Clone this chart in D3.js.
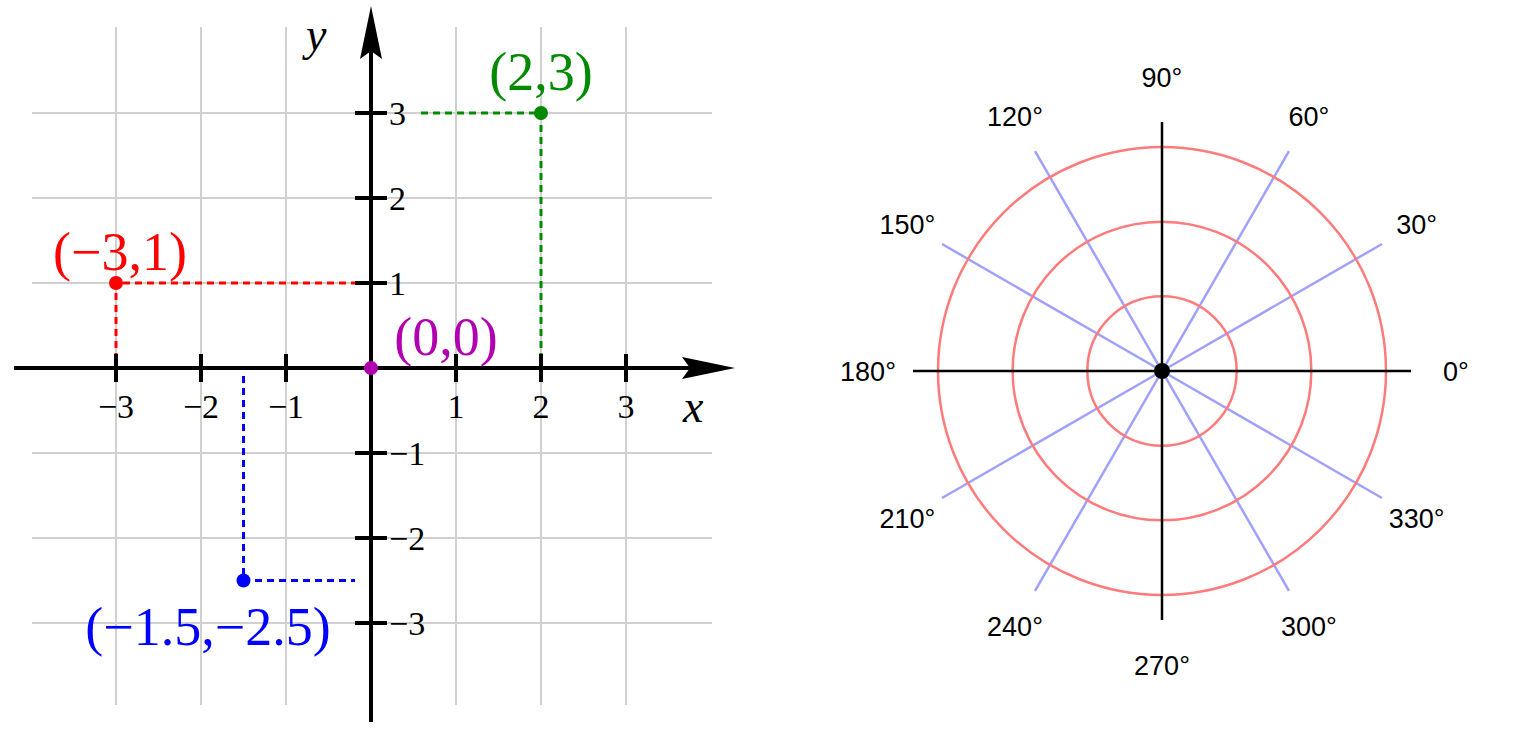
<!DOCTYPE html>
<html><head><meta charset="utf-8">
<script src="https://cdn.jsdelivr.net/npm/d3@7"></script>
<style>body{margin:0;background:#fff}</style></head>
<body><svg id="c" width="1536" height="742"></svg>
<script>
const ticks = [-3,-2,-1,1,2,3];
const tickLabels = ["\u22123","\u22122","\u22121","1","2","3"];
const points = [
  {label:"(2,3)", x:2, y:3, color:"#008a00"},
  {label:"(\u22123,1)", x:-3, y:1, color:"#ff0000"},
  {label:"(\u22121.5,\u22122.5)", x:-1.5, y:-2.5, color:"#0000ff"},
  {label:"(0,0)", x:0, y:0, color:"#b000b0"}
];
const radii = [1,2,3];
const spokeAngles = [30,60,120,150,210,240,300,330];
const angleLabels = [0,30,60,90,120,150,180,210,240,270,300,330];

const svg = d3.select("#c");
const x = d3.scaleLinear().domain([-4,4]).range([31,711]);
const y = d3.scaleLinear().domain([-4,4]).range([708,28]);
const g = svg.append("g");
g.selectAll(".gv").data(ticks).enter().append("line")
 .attr("x1",d=>x(d)).attr("x2",d=>x(d)).attr("y1",27).attr("y2",705)
 .attr("stroke","#d0d0d0").attr("stroke-width",2);
g.selectAll(".gh").data(ticks).enter().append("line")
 .attr("y1",d=>y(d)).attr("y2",d=>y(d)).attr("x1",32).attr("x2",712)
 .attr("stroke","#d0d0d0").attr("stroke-width",2);
// dashed guides, stopping short of the axes
points.filter(p=>p.x!==0).forEach(p=>{
  const sy = p.y>0 ? -8 : 8, sx = p.x>0 ? 48 : -16;
  g.append("path").attr("d",`M${x(p.x)},${y(0)+sy}V${y(p.y)}H${x(0)+sx}`)
   .attr("fill","none").attr("stroke",p.color).attr("stroke-width",3).attr("stroke-dasharray","7,5");
});
g.append("line").attr("x1",14).attr("x2",700).attr("y1",y(0)).attr("y2",y(0)).attr("stroke","#000").attr("stroke-width",4);
g.append("line").attr("x1",x(0)).attr("x2",x(0)).attr("y1",722).attr("y2",40).attr("stroke","#000").attr("stroke-width",4);
g.append("path").attr("d",`M735,${y(0)}L682,${y(0)-11}L690,${y(0)}L682,${y(0)+11}Z`);
g.append("path").attr("d",`M${x(0)},6L${x(0)-11},59L${x(0)},51L${x(0)+11},59Z`);
g.selectAll(".tx").data(ticks).enter().append("line")
 .attr("x1",d=>x(d)).attr("x2",d=>x(d)).attr("y1",y(0)-14).attr("y2",y(0)+14).attr("stroke","#000").attr("stroke-width",4);
g.selectAll(".ty").data(ticks).enter().append("line")
 .attr("y1",d=>y(d)).attr("y2",d=>y(d)).attr("x1",x(0)-16).attr("x2",x(0)+16).attr("stroke","#000").attr("stroke-width",4);
const serif = "'Liberation Serif','DejaVu Serif',serif";
g.selectAll(".lx").data(ticks).enter().append("text")
 .attr("x",d=>x(d)).attr("y",y(0)+50).attr("text-anchor","middle")
 .attr("font-family",serif).attr("font-size",34).text((d,i)=>tickLabels[i]);
g.selectAll(".ly").data(ticks).enter().append("text")
 .attr("x",x(0)+18).attr("y",d=>y(d)+12).attr("text-anchor","start")
 .attr("font-family",serif).attr("font-size",34).text((d,i)=>tickLabels[i]);
g.append("text").attr("x",683).attr("y",422).attr("font-family",serif).attr("font-style","italic").attr("font-size",46).text("x");
g.append("text").attr("x",306).attr("y",50).attr("font-family",serif).attr("font-style","italic").attr("font-size",46).text("y");
const lblPos = {"(2,3)":[541,90],"(\u22123,1)":[120,270],"(\u22121.5,\u22122.5)":[208,645],"(0,0)":[446,355]};
points.forEach(p=>{
  g.append("circle").attr("cx",x(p.x)).attr("cy",y(p.y)).attr("r",7).attr("fill",p.color);
  const lp = lblPos[p.label];
  g.append("text").attr("x",lp[0]).attr("y",lp[1]).attr("text-anchor","middle")
   .attr("font-family",serif).attr("font-size",54).attr("fill",p.color).text(p.label);
});

const cx=1162, cy=371;
const r = d3.scaleLinear().domain([0,3]).range([0,224]);
const pg = svg.append("g").attr("transform",`translate(${cx},${cy})`);
const rad = a=>a*Math.PI/180;
pg.selectAll(".sp").data(spokeAngles).enter().append("line")
 .attr("x1",0).attr("y1",0).attr("x2",d=>254*Math.cos(rad(d))).attr("y2",d=>-254*Math.sin(rad(d)))
 .attr("stroke","#a0a0ff").attr("stroke-width",2.5);
pg.selectAll(".ci").data(radii).enter().append("circle").attr("r",d=>r(d))
 .attr("fill","none").attr("stroke","#ff7b7b").attr("stroke-width",2.5);
pg.append("line").attr("x1",-249).attr("x2",249).attr("stroke","#000").attr("stroke-width",2.5);
pg.append("line").attr("y1",-249).attr("y2",249).attr("stroke","#000").attr("stroke-width",2.5);
pg.append("circle").attr("r",8).attr("fill","#000");
pg.selectAll(".al").data(angleLabels).enter().append("text")
 .attr("x",d=>294*Math.cos(rad(d))).attr("y",d=>-294*Math.sin(rad(d))+10)
 .attr("text-anchor","middle").attr("font-family","'Liberation Sans',Arial,sans-serif").attr("font-size",27)
 .text(d=>d+"\u00b0");
</script></body></html>
